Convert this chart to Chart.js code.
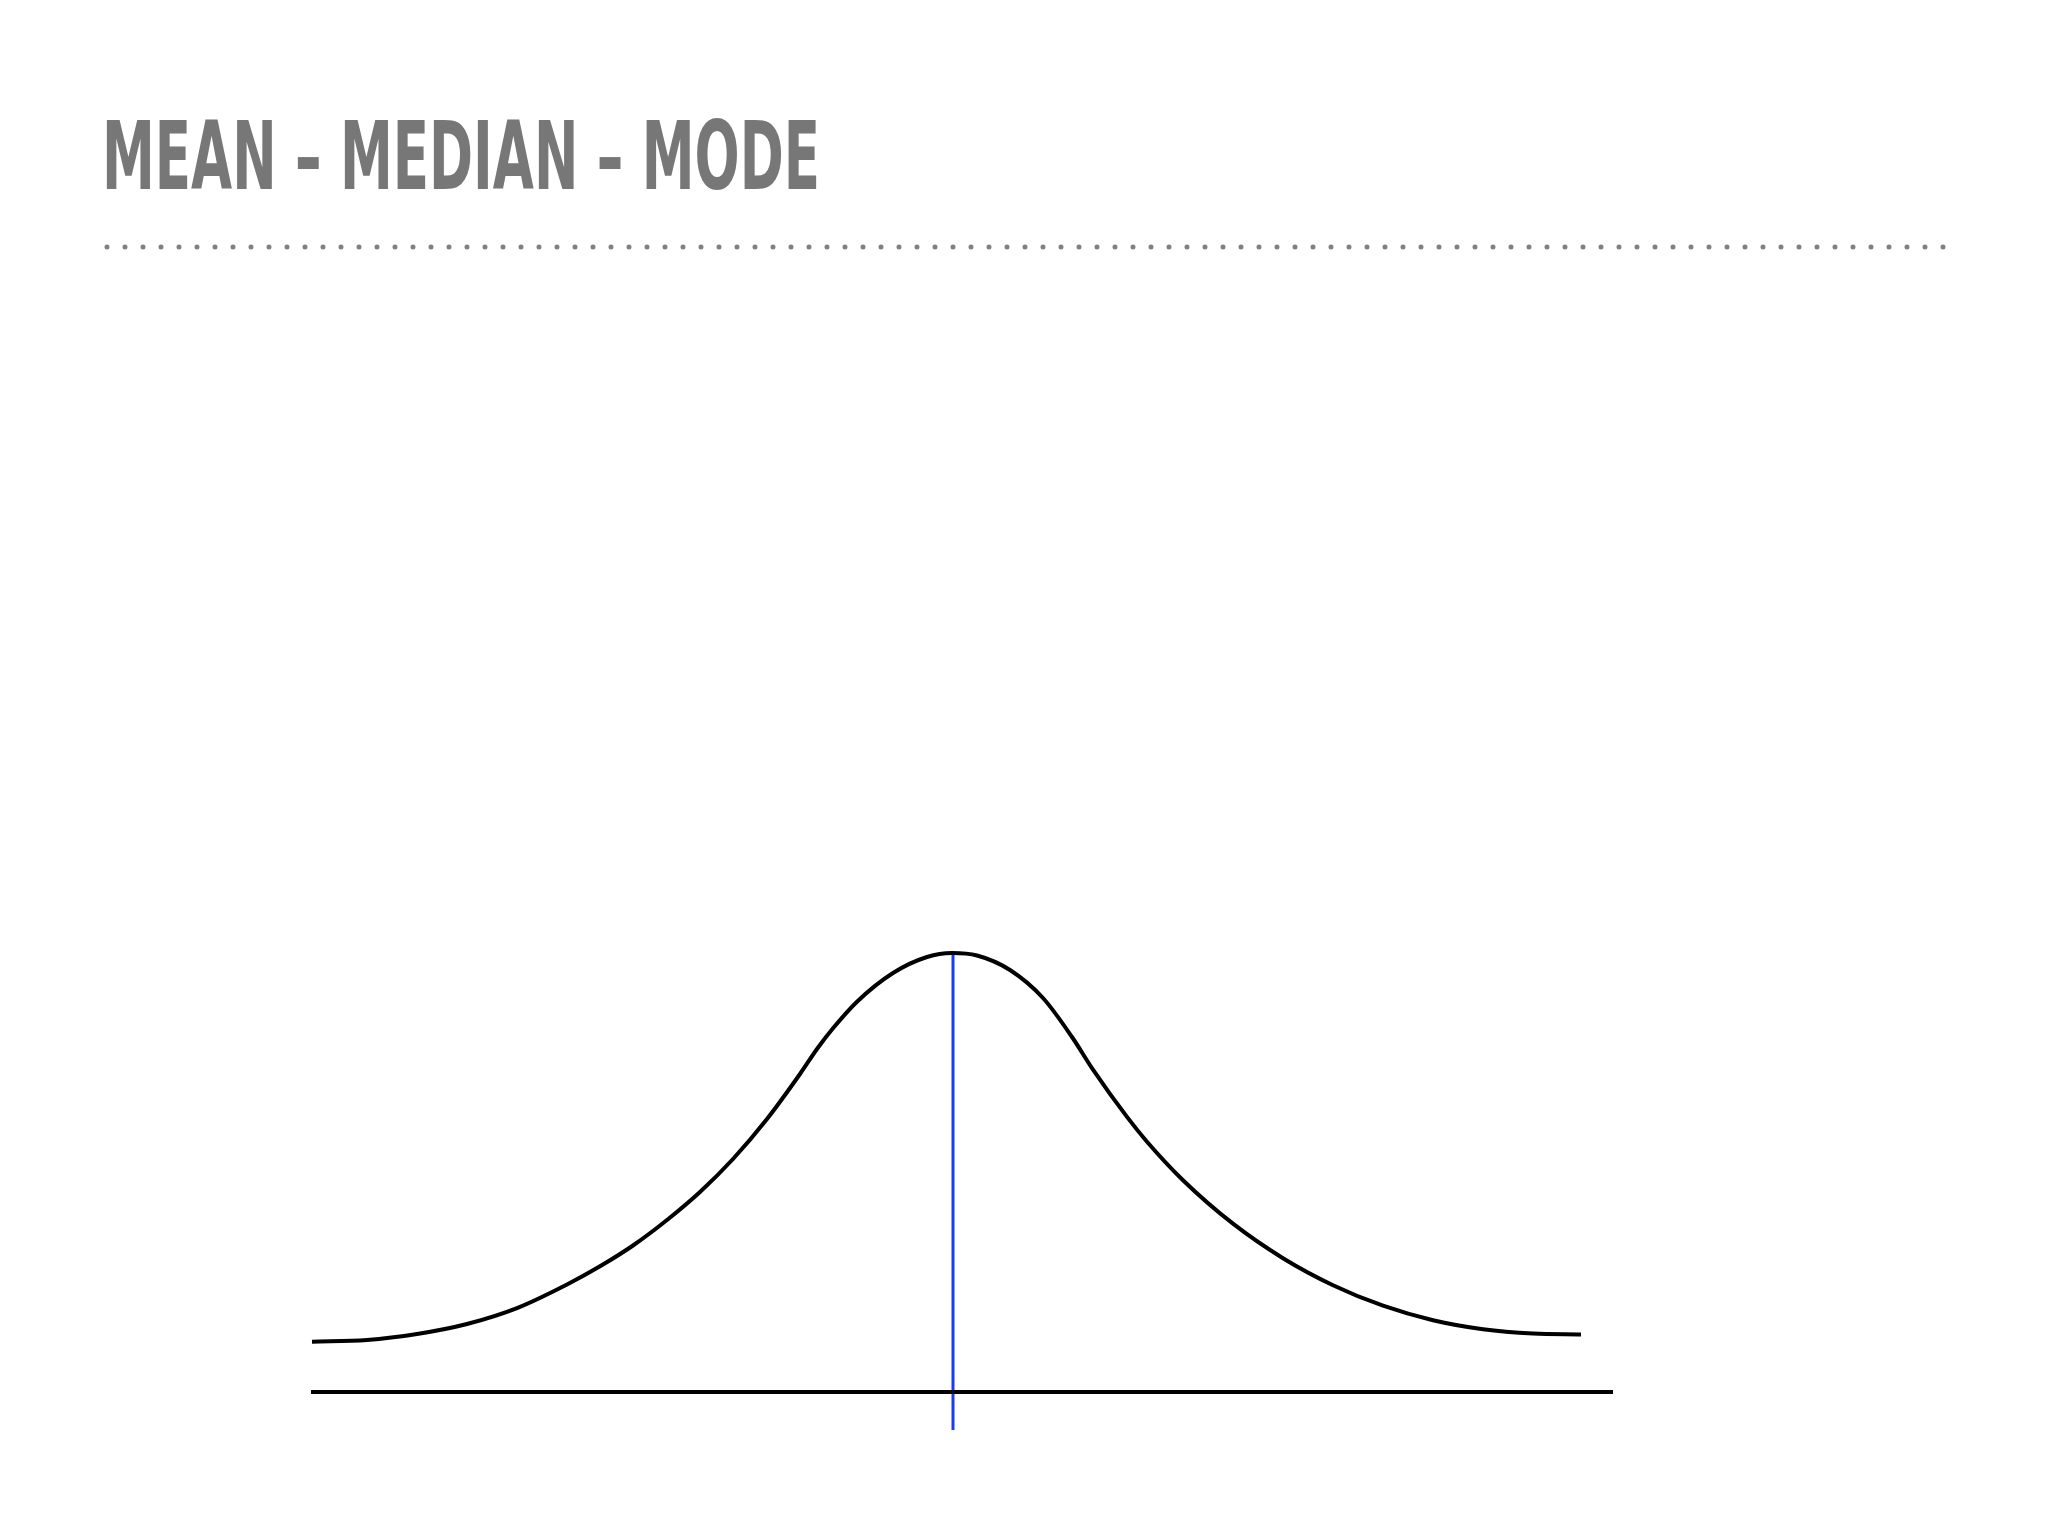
<!DOCTYPE html>
<html>
<head>
<meta charset="utf-8">
<title>Mean - Median - Mode</title>
<script src="https://cdn.jsdelivr.net/npm/chart.js@4"></script>
<style>
  html, body { margin: 0; padding: 0; background: #fff; }
  #wrap { width: 2048px; height: 1536px; position: relative; }
</style>
</head>
<body>
<div id="wrap"><canvas id="bellChart"></canvas></div>
<script>
// values (x: 0 = centre, y: 0 = the baseline)
const curveX = [-6.40, -5.85, -5.35, -4.85, -4.35, -3.85, -3.52, -3.19, -2.85, -2.52, -2.19, -1.85,
                -1.52, -1.35, -1.19, -0.95, -0.59, -0.25, 0.00,
                0.25, 0.58, 0.91, 1.20, 1.41, 1.75, 1.95, 2.31, 2.81, 3.31, 3.81, 4.31, 4.81, 5.31, 5.81, 6.29];
const curveY = [0.503, 0.520, 0.580, 0.680, 0.839, 1.075, 1.257, 1.465, 1.72, 2.00, 2.33, 2.73,
                3.18, 3.43, 3.637, 3.903, 4.19, 4.35, 4.39,
                4.365, 4.22, 3.94, 3.55, 3.224, 2.751, 2.503, 2.118, 1.683, 1.338, 1.068, 0.863, 0.718, 0.628, 0.585, 0.576];

const baseX = [-6.41, 6.61];   // horizontal axis line
const baseY = [0, 0];

const meanX = [0.01, 0.01];    // mean = median = mode marker
const meanY = [-0.38, 4.39];

const titleText = 'MEAN – MEDIAN – MODE';

function toPoints(xs, ys) {
    return xs.map((x, i) => ({ x: x, y: ys[i] }));
}

// title and dotted rule above the chart
const headerPlugin = {
    id: 'header',
    afterDraw(chart) {
        const ctx = chart.ctx;
        ctx.save();
        ctx.fillStyle = '#777777';
        ctx.font = 'bold 95px "Liberation Sans Narrow", "DejaVu Sans Condensed", sans-serif';
        ctx.textBaseline = 'alphabetic';
        const w = ctx.measureText(titleText).width;
        ctx.translate(102, 189);
        ctx.scale(718 / w, 1);      // squeeze to the condensed width of the original
        ctx.fillText(titleText, 0, 0);
        ctx.restore();

        ctx.save();
        ctx.strokeStyle = '#808080';
        ctx.lineWidth = 5;
        ctx.lineCap = 'round';
        ctx.setLineDash([0, 18]);
        ctx.beginPath();
        ctx.moveTo(107, 247);
        ctx.lineTo(1944, 247);
        ctx.stroke();
        ctx.restore();
    }
};

new Chart(document.getElementById('bellChart'), {
    type: 'line',
    data: {
        datasets: [{
            data: toPoints(curveX, curveY),
            borderColor: '#000000',
            borderWidth: 4,
            pointRadius: 0,
            cubicInterpolationMode: 'monotone',
            clip: false
        }, {
            data: toPoints(baseX, baseY),
            borderColor: '#000000',
            borderWidth: 4,
            pointRadius: 0,
            clip: false
        }, {
            data: toPoints(meanX, meanY),
            borderColor: '#1a3cf0',
            borderWidth: 3,
            pointRadius: 0,
            clip: false
        }]
    },
    options: {
        responsive: true,
        maintainAspectRatio: false,
        animation: false,
        layout: {
            padding: { left: 311, right: 435, top: 892, bottom: 94 }
        },
        scales: {
            x: { type: 'linear', min: -6.41, max: 6.61, display: false },
            y: { min: -0.5, max: 5, display: false }
        },
        plugins: {
            legend: { display: false },
            tooltip: { enabled: false }
        }
    },
    plugins: [headerPlugin]
});
</script>
</body>
</html>
